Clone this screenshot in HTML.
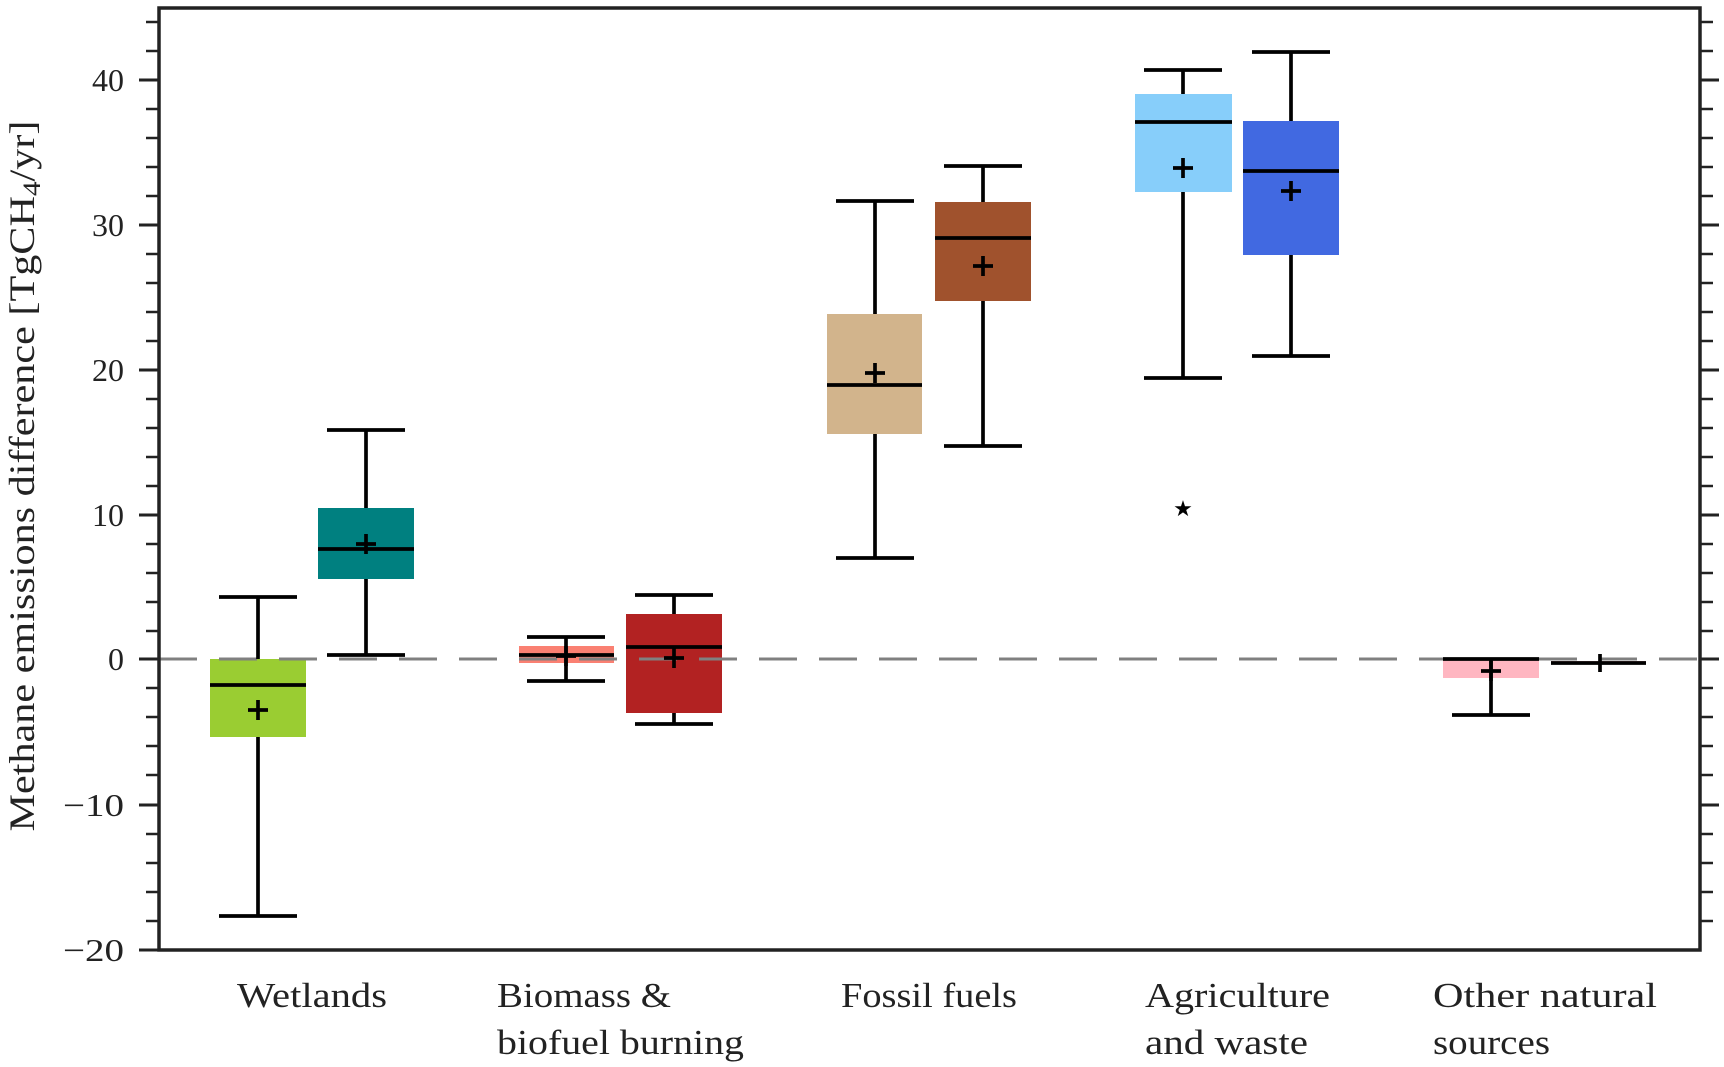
<!DOCTYPE html>
<html><head><meta charset="utf-8"><style>
html,body{margin:0;padding:0;background:#fff;}
svg{display:block;}
text{font-family:"Liberation Serif",serif;fill:#222;}
</style></head><body>
<svg width="1724" height="1067" viewBox="0 0 1724 1067" xmlns="http://www.w3.org/2000/svg">
<g stroke="#222" stroke-width="3">
<line x1="139" y1="80" x2="159" y2="80"/><line x1="139" y1="225" x2="159" y2="225"/><line x1="139" y1="370" x2="159" y2="370"/><line x1="139" y1="515" x2="159" y2="515"/><line x1="139" y1="659" x2="159" y2="659"/><line x1="139" y1="805" x2="159" y2="805"/><line x1="139" y1="950" x2="159" y2="950"/>
<line x1="1700" y1="80" x2="1719" y2="80"/><line x1="1700" y1="225" x2="1719" y2="225"/><line x1="1700" y1="370" x2="1719" y2="370"/><line x1="1700" y1="515" x2="1719" y2="515"/><line x1="1700" y1="659" x2="1719" y2="659"/><line x1="1700" y1="805" x2="1719" y2="805"/>
</g>
<g stroke="#222" stroke-width="2.5">
<line x1="146" y1="22" x2="159" y2="22"/><line x1="146" y1="51" x2="159" y2="51"/><line x1="146" y1="109" x2="159" y2="109"/><line x1="146" y1="138" x2="159" y2="138"/><line x1="146" y1="167" x2="159" y2="167"/><line x1="146" y1="196" x2="159" y2="196"/><line x1="146" y1="254" x2="159" y2="254"/><line x1="146" y1="283" x2="159" y2="283"/><line x1="146" y1="312" x2="159" y2="312"/><line x1="146" y1="341" x2="159" y2="341"/><line x1="146" y1="399" x2="159" y2="399"/><line x1="146" y1="428" x2="159" y2="428"/><line x1="146" y1="457" x2="159" y2="457"/><line x1="146" y1="486" x2="159" y2="486"/><line x1="146" y1="544" x2="159" y2="544"/><line x1="146" y1="573" x2="159" y2="573"/><line x1="146" y1="602" x2="159" y2="602"/><line x1="146" y1="631" x2="159" y2="631"/><line x1="146" y1="688" x2="159" y2="688"/><line x1="146" y1="717" x2="159" y2="717"/><line x1="146" y1="746" x2="159" y2="746"/><line x1="146" y1="775" x2="159" y2="775"/><line x1="146" y1="834" x2="159" y2="834"/><line x1="146" y1="863" x2="159" y2="863"/><line x1="146" y1="892" x2="159" y2="892"/><line x1="146" y1="921" x2="159" y2="921"/>
<line x1="1700" y1="22" x2="1713" y2="22"/><line x1="1700" y1="51" x2="1713" y2="51"/><line x1="1700" y1="109" x2="1713" y2="109"/><line x1="1700" y1="138" x2="1713" y2="138"/><line x1="1700" y1="167" x2="1713" y2="167"/><line x1="1700" y1="196" x2="1713" y2="196"/><line x1="1700" y1="254" x2="1713" y2="254"/><line x1="1700" y1="283" x2="1713" y2="283"/><line x1="1700" y1="312" x2="1713" y2="312"/><line x1="1700" y1="341" x2="1713" y2="341"/><line x1="1700" y1="399" x2="1713" y2="399"/><line x1="1700" y1="428" x2="1713" y2="428"/><line x1="1700" y1="457" x2="1713" y2="457"/><line x1="1700" y1="486" x2="1713" y2="486"/><line x1="1700" y1="544" x2="1713" y2="544"/><line x1="1700" y1="573" x2="1713" y2="573"/><line x1="1700" y1="602" x2="1713" y2="602"/><line x1="1700" y1="631" x2="1713" y2="631"/><line x1="1700" y1="688" x2="1713" y2="688"/><line x1="1700" y1="717" x2="1713" y2="717"/><line x1="1700" y1="746" x2="1713" y2="746"/><line x1="1700" y1="775" x2="1713" y2="775"/><line x1="1700" y1="834" x2="1713" y2="834"/><line x1="1700" y1="863" x2="1713" y2="863"/><line x1="1700" y1="892" x2="1713" y2="892"/><line x1="1700" y1="921" x2="1713" y2="921"/>
</g>

<g>
<rect x="210" y="659" width="96" height="78" fill="#9acd32"/>
<rect x="318" y="508" width="96" height="71" fill="#008080"/>
<rect x="519" y="646" width="95" height="17" fill="#fa8072"/>
<rect x="626" y="614" width="96" height="99" fill="#b22222"/>
<rect x="827" y="314" width="95" height="120" fill="#d2b48c"/>
<rect x="935" y="202" width="96" height="99" fill="#a0522d"/>
<rect x="1135" y="94" width="97" height="98" fill="#87cefa"/>
<rect x="1243" y="121" width="96" height="134" fill="#4169e1"/>
<rect x="1443" y="659" width="96" height="19" fill="#ffb6c1"/>
<rect x="1551" y="661" width="95" height="3" fill="#ffb6c1"/>
</g>

<line x1="159" y1="659" x2="1700" y2="659" stroke="#808080" stroke-width="3" stroke-dasharray="38,22"/>

<g stroke="#000" stroke-width="3.7" fill="none">
<line x1="258" y1="597" x2="258" y2="659"/><line x1="258" y1="737" x2="258" y2="916"/>
<line x1="219" y1="597" x2="297" y2="597"/><line x1="219" y1="916" x2="297" y2="916"/>
<line x1="210" y1="685" x2="306" y2="685"/>
<line x1="248" y1="710" x2="268" y2="710"/><line x1="258" y1="700" x2="258" y2="720"/>
<line x1="366" y1="430" x2="366" y2="508"/><line x1="366" y1="579" x2="366" y2="655"/>
<line x1="327" y1="430" x2="405" y2="430"/><line x1="327" y1="655" x2="405" y2="655"/>
<line x1="318" y1="549" x2="414" y2="549"/>
<line x1="356" y1="544" x2="376" y2="544"/><line x1="366" y1="534" x2="366" y2="554"/>
<line x1="566" y1="637" x2="566" y2="681"/>
<line x1="527" y1="637" x2="605" y2="637"/><line x1="527" y1="681" x2="605" y2="681"/>
<line x1="519" y1="655" x2="614" y2="655"/>
<line x1="556" y1="656" x2="576" y2="656"/><line x1="566" y1="646" x2="566" y2="666"/>
<line x1="674" y1="595" x2="674" y2="614"/><line x1="674" y1="713" x2="674" y2="724"/>
<line x1="635" y1="595" x2="713" y2="595"/><line x1="635" y1="724" x2="713" y2="724"/>
<line x1="626" y1="647" x2="722" y2="647"/>
<line x1="664" y1="658" x2="684" y2="658"/><line x1="674" y1="648" x2="674" y2="668"/>
<line x1="875" y1="201" x2="875" y2="314"/><line x1="875" y1="434" x2="875" y2="558"/>
<line x1="836" y1="201" x2="914" y2="201"/><line x1="836" y1="558" x2="914" y2="558"/>
<line x1="827" y1="385" x2="922" y2="385"/>
<line x1="865" y1="373" x2="885" y2="373"/><line x1="875" y1="363" x2="875" y2="383"/>
<line x1="983" y1="166" x2="983" y2="202"/><line x1="983" y1="301" x2="983" y2="446"/>
<line x1="944" y1="166" x2="1022" y2="166"/><line x1="944" y1="446" x2="1022" y2="446"/>
<line x1="935" y1="238" x2="1031" y2="238"/>
<line x1="973" y1="266" x2="993" y2="266"/><line x1="983" y1="256" x2="983" y2="276"/>
<line x1="1183" y1="70" x2="1183" y2="94"/><line x1="1183" y1="192" x2="1183" y2="378"/>
<line x1="1144" y1="70" x2="1222" y2="70"/><line x1="1144" y1="378" x2="1222" y2="378"/>
<line x1="1135" y1="122" x2="1232" y2="122"/>
<line x1="1173" y1="168" x2="1193" y2="168"/><line x1="1183" y1="158" x2="1183" y2="178"/>
<line x1="1291" y1="52" x2="1291" y2="121"/><line x1="1291" y1="255" x2="1291" y2="356"/>
<line x1="1252" y1="52" x2="1330" y2="52"/><line x1="1252" y1="356" x2="1330" y2="356"/>
<line x1="1243" y1="171" x2="1339" y2="171"/>
<line x1="1281" y1="191" x2="1301" y2="191"/><line x1="1291" y1="181" x2="1291" y2="201"/>
<line x1="1491" y1="659" x2="1491" y2="715"/>
<line x1="1452" y1="715" x2="1530" y2="715"/>
<line x1="1443" y1="659" x2="1539" y2="659"/>
<line x1="1481" y1="671" x2="1501" y2="671"/><line x1="1491" y1="661" x2="1491" y2="681"/>
<line x1="1551" y1="663" x2="1646" y2="663"/>
<line x1="1600" y1="654" x2="1600" y2="672"/>
</g>
<text x="1183" y="516" font-size="22" text-anchor="middle" style="fill:#000">★</text>

<rect x="159" y="8" width="1541" height="942" fill="none" stroke="#222" stroke-width="3.5"/>

<g font-size="32" text-anchor="end">
<text x="124" y="91">40</text>
<text x="124" y="236">30</text>
<text x="124" y="381">20</text>
<text x="124" y="526">10</text>
<text x="124" y="670">0</text>
<text x="124" y="816" textLength="61" lengthAdjust="spacingAndGlyphs">−10</text>
<text x="124" y="961" textLength="61" lengthAdjust="spacingAndGlyphs">−20</text>
</g>
<text transform="translate(34,476) rotate(-90)" font-size="36" text-anchor="middle" textLength="711" lengthAdjust="spacingAndGlyphs">Methane emissions difference [TgCH<tspan font-size="25" dy="6">4</tspan><tspan dy="-6">/yr]</tspan></text>

<g font-size="35">
<text x="237" y="1007" textLength="150" lengthAdjust="spacingAndGlyphs">Wetlands</text>
<text x="497" y="1007" textLength="174" lengthAdjust="spacingAndGlyphs">Biomass &amp;</text>
<text x="497" y="1054" textLength="247" lengthAdjust="spacingAndGlyphs">biofuel burning</text>
<text x="841" y="1007" textLength="176" lengthAdjust="spacingAndGlyphs">Fossil fuels</text>
<text x="1145" y="1007" textLength="185" lengthAdjust="spacingAndGlyphs">Agriculture</text>
<text x="1145" y="1054" textLength="163" lengthAdjust="spacingAndGlyphs">and waste</text>
<text x="1433" y="1007" textLength="224" lengthAdjust="spacingAndGlyphs">Other natural</text>
<text x="1433" y="1054" textLength="117" lengthAdjust="spacingAndGlyphs">sources</text>
</g>
</svg>
</body></html>
